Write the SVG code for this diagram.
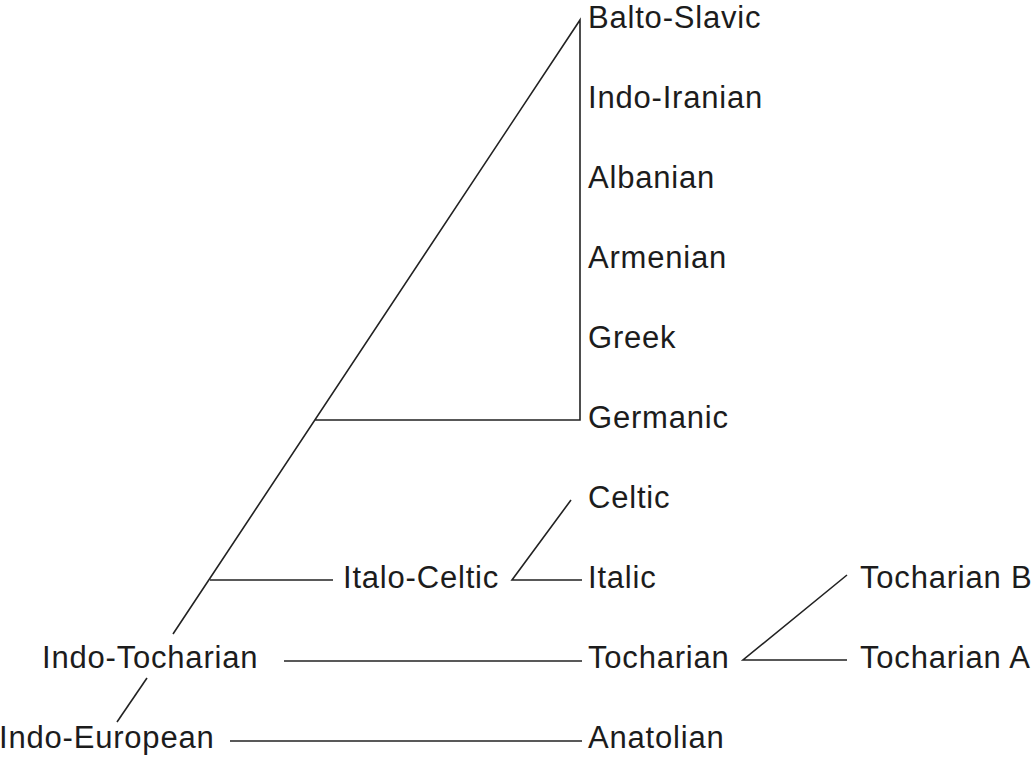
<svg xmlns="http://www.w3.org/2000/svg" width="1031" height="758" viewBox="0 0 1031 758">
<style>
.bg{fill:#ffffff}
.ln{stroke:#222;stroke-width:1.6;fill:none;stroke-linecap:butt}
.lb{font-family:"Liberation Sans",Arial,Helvetica,sans-serif;font-size:31px;letter-spacing:0.8px;fill:#1c1c1c}
</style>
<rect class="bg" x="0" y="0" width="1031" height="758"/>
<g id="connectors">
<path class="ln" d="M173,634 L580,20 L580,420 L315,420"/>
<path class="ln" d="M210,580 L333,580"/>
<path class="ln" d="M571,500 L512,580 L582,580"/>
<path class="ln" d="M284,661 L582,661"/>
<path class="ln" d="M147,678 L117,722"/>
<path class="ln" d="M230,741 L582,741"/>
<path class="ln" d="M847,575 L743,660 L847,660"/>
</g>
<g id="balto-slavic"><text class="lb" x="588" y="28">Balto-Slavic</text></g>
<g id="indo-iranian"><text class="lb" x="588" y="108">Indo-Iranian</text></g>
<g id="albanian"><text class="lb" x="588" y="188">Albanian</text></g>
<g id="armenian"><text class="lb" x="588" y="268">Armenian</text></g>
<g id="greek"><text class="lb" x="588" y="348">Greek</text></g>
<g id="germanic"><text class="lb" x="588" y="428">Germanic</text></g>
<g id="celtic"><text class="lb" x="588" y="508">Celtic</text></g>
<g id="italic"><text class="lb" x="588" y="588">Italic</text></g>
<g id="italo-celtic"><text class="lb" x="343" y="588">Italo-Celtic</text></g>
<g id="tocharian"><text class="lb" x="588" y="668">Tocharian</text></g>
<g id="tocharian-b"><text class="lb" x="860" y="588">Tocharian B</text></g>
<g id="tocharian-a"><text class="lb" x="860" y="668">Tocharian A</text></g>
<g id="indo-tocharian"><text class="lb" x="42" y="668">Indo-Tocharian</text></g>
<g id="indo-european"><text class="lb" x="-1" y="748">Indo-European</text></g>
<g id="anatolian"><text class="lb" x="588" y="748">Anatolian</text></g>
</svg>
